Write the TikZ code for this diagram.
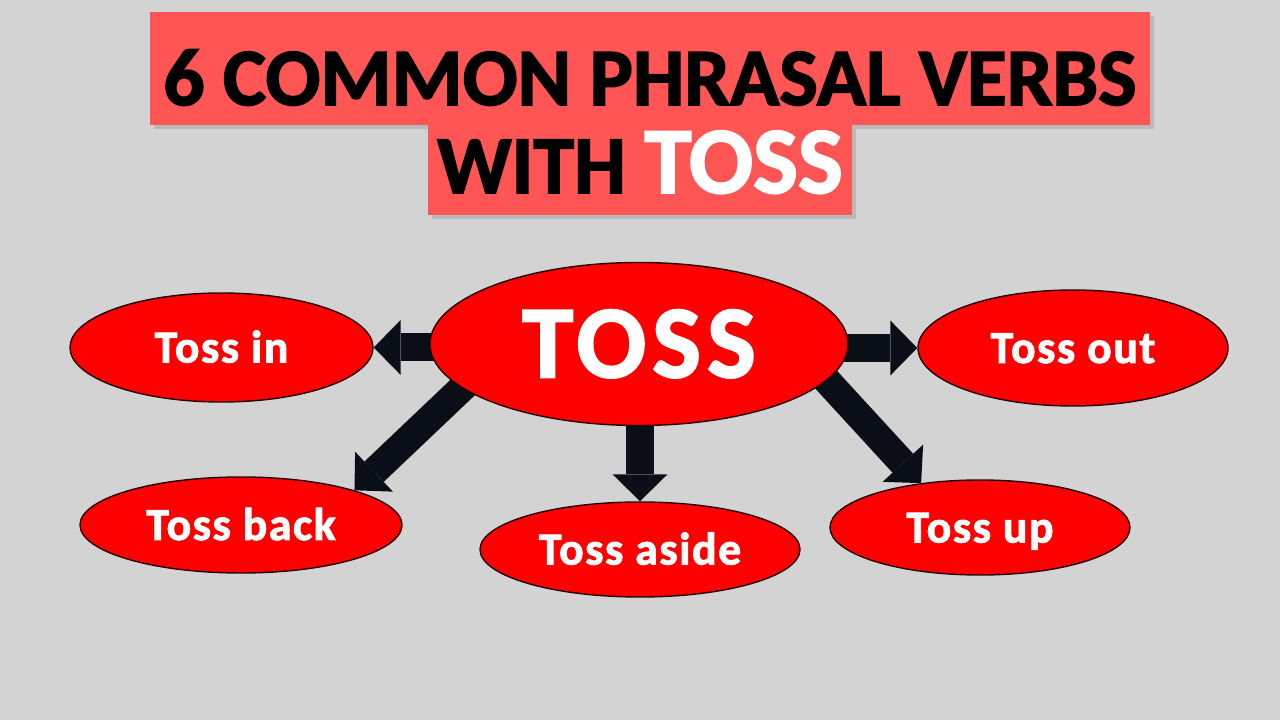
\documentclass[tikz,border=0pt]{standalone}
\usepackage{fontspec}
\setmainfont{Carlito}[BoldFeatures={FakeBold=2}]
\usepackage{xcolor}
\usepackage{tikz}
\usetikzlibrary{arrows.meta,shapes,shadows,calc}

\definecolor{bggray}{RGB}{211,211,211}
\definecolor{titlered}{RGB}{255,85,85}
\definecolor{ovalred}{RGB}{255,0,0}
\definecolor{arrowblack}{RGB}{10,14,22}

\pgfdeclarelayer{bglayer}
\pgfdeclarelayer{arrowlayer}
\pgfsetlayers{bglayer,arrowlayer,main}

\begin{document}
\begin{tikzpicture}
            \tikzset{titlebox/.style = {fill=titlered, inner sep=0pt, font=\bfseries, drop shadow={shadow xshift=2pt, shadow yshift=-2pt, opacity=0.3}}}
            \tikzset{oval/.style = {ellipse, fill=ovalred, draw=black!85!red, line width=0.8pt, inner sep=0pt, text=white, text height=0.6cm, text depth=0pt, font=\fontsize{26}{30}\selectfont\bfseries\addfontfeatures{LetterSpace=3.5}}}
            \tikzset{blockarrow/.style = {draw=arrowblack, line width=0.56cm, -{Triangle[length=0.54cm,width=1.1cm,line width=0pt]}}}

            \useasboundingbox (0,0) rectangle (25.6,14.4);
            \begin{pgfonlayer}{bglayer}
              \fill[bggray] (0,0) rectangle (25.6,14.4);
            \end{pgfonlayer}

            % title
            \node[titlebox, minimum width=20cm, text height=1.86cm, text depth=0.4cm] (title) at (13,13.03) {\fontsize{46.3}{50}\selectfont 6 COMMON PHRASAL VERBS\hspace{0.55cm}};
            \node[titlebox, minimum width=8.48cm, text height=1.36cm, text depth=0.44cm] (subtitle) at (12.8,11) {\fontsize{46.7}{50}\selectfont WITH \textcolor{white}{\fontsize{54}{56}\selectfont TOSS}};

            % ovals
            \node[oval, minimum width=8.36cm, minimum height=3.26cm, text height=1.33cm, font=\fontsize{58.6}{62}\selectfont\bfseries\addfontfeatures{LetterSpace=6}] (toss) at (12.78,7.52) {TOSS};
            \node[oval, minimum width=6.06cm, minimum height=2.18cm] (tossin) at (4.43,7.45) {Toss in};
            \node[oval, minimum width=6.2cm, minimum height=2.32cm] (tossout) at (21.46,7.44) {Toss out};
            \node[oval, minimum width=6.44cm, minimum height=1.92cm] (tossback) at (4.82,3.9) {Toss back};
            \node[oval, minimum width=6.4cm, minimum height=1.9cm] (tossaside) at (12.8,3.41) {Toss aside};
            \node[oval, minimum width=6cm, minimum height=1.9cm] (tossup) at (19.6,3.85) {Toss up};

            % arrows
            \begin{pgfonlayer}{arrowlayer}
              \draw[blockarrow] (toss.center |- tossin.east) -- (tossin.east);
              \draw[blockarrow] (toss.center |- tossout.west) -- (tossout.west);
              \draw[blockarrow] (tossaside.north |- toss.center) -- (tossaside.north);
              \draw[blockarrow] ($(tossback.17)!1.5!(toss.194)$) -- (tossback.17);
              \draw[blockarrow] ($(tossup.143)!1.5!(toss.349)$) -- (tossup.143);
            \end{pgfonlayer}

          \end{tikzpicture}
\end{document}
